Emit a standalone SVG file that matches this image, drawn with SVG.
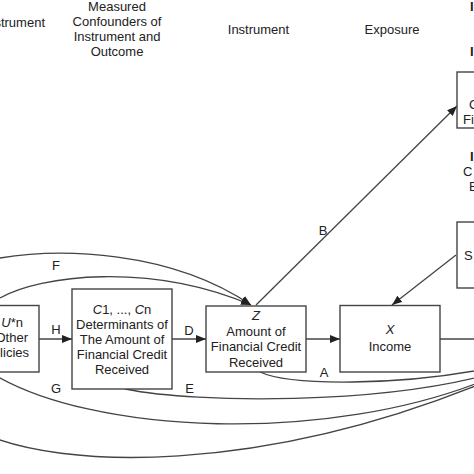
<svg xmlns="http://www.w3.org/2000/svg" width="474" height="474" viewBox="0 0 474 474">
<defs>
<marker id="ah" viewBox="0 0 10 8" refX="10" refY="4" markerWidth="10" markerHeight="8" markerUnits="userSpaceOnUse" orient="auto">
<path d="M0,0 L10,4 L0,8 Z" fill="#222"/>
</marker>
<style>
.box{fill:#fff;stroke:#444;stroke-width:1.4}
.ln{fill:none;stroke:#444;stroke-width:1.3}
.t{font-family:"Liberation Sans",Arial,sans-serif;font-size:13px;fill:#222;text-anchor:middle}
.e{text-anchor:end}
.s{text-anchor:start}
.b{font-weight:bold}
.i{font-style:italic}
</style>
</defs>
<rect width="474" height="474" fill="#fff"/>
<g id="headers">
<text class="t e" x="45" y="27">Instrument</text>
<text class="t" x="117" y="11">Measured</text>
<text class="t" x="117" y="26">Confounders of</text>
<text class="t" x="117" y="41">Instrument and</text>
<text class="t" x="117" y="56">Outcome</text>
<text class="t" x="258.5" y="34">Instrument</text>
<text class="t" x="392" y="34">Exposure</text>
<text class="t s b" x="470" y="11">I</text>
<text class="t s b" x="470" y="56">I</text>
<text class="t s b" x="470" y="161">I</text>
<text class="t s" x="463" y="176">C</text>
<text class="t s" x="469" y="191">E</text>
</g>
<g id="connectors">
<path class="ln" d="M0,258 C60,248 170,250 251,305" marker-end="url(#ah)"/>
<path class="ln" d="M0,298 C40,275 150,262 251,305" marker-end="url(#ah)"/>
<line class="ln" x1="256" y1="305" x2="457" y2="106" marker-end="url(#ah)"/>
<line class="ln" x1="456" y1="255" x2="392" y2="305" marker-end="url(#ah)"/>
<line class="ln" x1="39" y1="339" x2="72" y2="339" marker-end="url(#ah)"/>
<line class="ln" x1="172" y1="339" x2="206" y2="339" marker-end="url(#ah)"/>
<line class="ln" x1="306" y1="339" x2="340" y2="339" marker-end="url(#ah)"/>
<line class="ln" x1="440" y1="339" x2="480" y2="339"/>
<path class="ln" d="M260,372 C290,386 400,386 490,368"/>
<path class="ln" d="M125,389 C200,404 380,404 490,374"/>
<path class="ln" d="M-10,372 C90,435 330,445 490,378"/>
<path class="ln" d="M-20,432 C60,470 260,475 490,380"/>
<text class="t" x="56" y="270">F</text>
<text class="t" x="56" y="334">H</text>
<text class="t" x="189" y="335">D</text>
<text class="t" x="323" y="235">B</text>
<text class="t" x="324" y="377">A</text>
<text class="t" x="189.5" y="393">E</text>
<text class="t" x="56" y="393">G</text>
</g>
<g id="node-u">
<rect class="box" x="-61" y="305.5" width="100" height="66.5"/>
<text class="t e" x="23" y="327"><tspan class="i">U</tspan>*n</text>
<text class="t e" x="28" y="342">Other</text>
<text class="t e" x="29" y="357">Policies</text>
</g>
<g id="node-c">
<rect class="box" x="72" y="289" width="100" height="100"/>
<text class="t" x="122" y="314"><tspan class="i">C</tspan>1, ..., <tspan class="i">C</tspan>n</text>
<text class="t" x="122" y="329">Determinants of</text>
<text class="t" x="122" y="344">The Amount of</text>
<text class="t" x="122" y="359">Financial Credit</text>
<text class="t" x="122" y="374">Received</text>
</g>
<g id="node-z">
<rect class="box" x="206" y="306" width="100" height="66"/>
<text class="t i" x="256" y="320">Z</text>
<text class="t" x="256" y="335.5">Amount of</text>
<text class="t" x="256" y="351">Financial Credit</text>
<text class="t" x="256" y="366.5">Received</text>
</g>
<g id="node-x">
<rect class="box" x="340" y="305.5" width="100" height="66.5"/>
<text class="t i" x="390" y="334">X</text>
<text class="t" x="390" y="351">Income</text>
</g>
<g id="node-outcome">
<rect class="box" x="457" y="72" width="40" height="56"/>
<text class="t s" x="469" y="109">C</text>
<text class="t s" x="463" y="124">Fi</text>
</g>
<g id="node-s">
<rect class="box" x="457" y="222" width="40" height="66"/>
<text class="t s" x="464" y="260">S</text>
</g>
</svg>
